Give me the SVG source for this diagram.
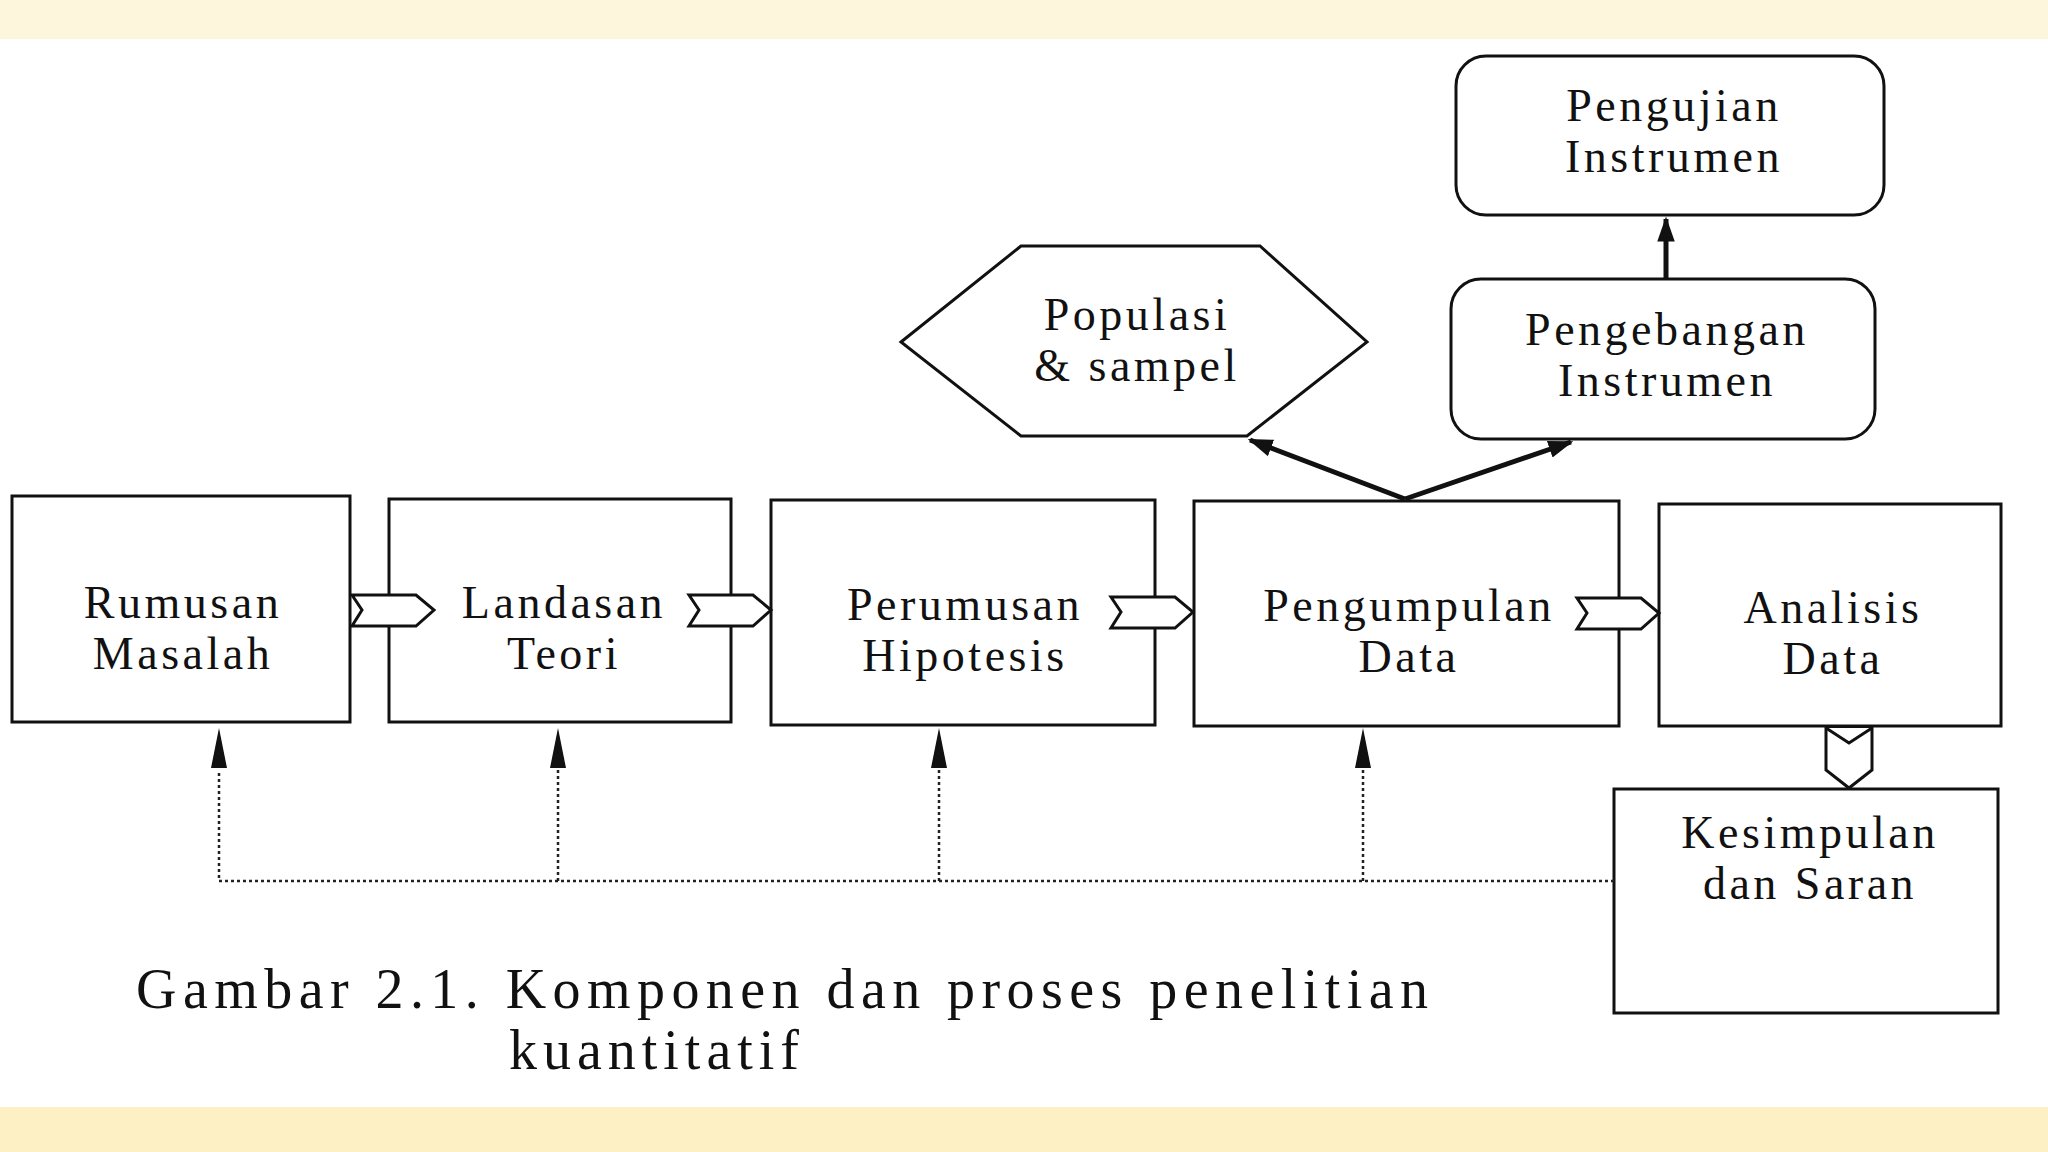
<svg xmlns="http://www.w3.org/2000/svg" width="2048" height="1152" viewBox="0 0 2048 1152">
<defs>
<style>
.b{fill:#fff;stroke:#111;stroke-width:3}
.t{font-family:"Liberation Serif",serif;font-size:46px;fill:#111;text-anchor:middle;letter-spacing:3.5px}
.d{stroke:#222;stroke-width:2.5;stroke-dasharray:3 3;fill:none}
.c{fill:#fff;stroke:#111;stroke-width:3;stroke-linejoin:miter}
</style>
<marker id="ah" viewBox="0 0 10 10" refX="9" refY="5" markerWidth="5" markerHeight="5" orient="auto-start-reverse"><path d="M0,1.5 L10,5 L0,8.5 Z" fill="#111"/></marker>
</defs>
<rect width="2048" height="1152" fill="#fff"/>
<rect width="2048" height="39" fill="#fdf5dc"/>
<rect y="1107" width="2048" height="45" fill="#fdf0c4"/>
<g id="n1"><rect class="b" x="12" y="496" width="338" height="226"/><text class="t" x="183" y="618">Rumusan</text><text class="t" x="183" y="669">Masalah</text></g>
<g id="n2"><rect class="b" x="389" y="499" width="342" height="223"/><text class="t" x="564" y="618">Landasan</text><text class="t" x="564" y="669">Teori</text></g>
<g id="n3"><rect class="b" x="771" y="500" width="384" height="225"/><text class="t" x="965" y="620">Perumusan</text><text class="t" x="965" y="671">Hipotesis</text></g>
<g id="n4"><rect class="b" x="1194" y="501" width="425" height="225"/><text class="t" x="1409" y="621">Pengumpulan</text><text class="t" x="1409" y="672">Data</text></g>
<g id="n5"><rect class="b" x="1659" y="504" width="342" height="222"/><text class="t" x="1833" y="623">Analisis</text><text class="t" x="1833" y="674">Data</text></g>
<g id="n6"><rect class="b" x="1614" y="789" width="384" height="224"/><text class="t" x="1810" y="848">Kesimpulan</text><text class="t" x="1810" y="899">dan  Saran</text></g>
<g id="n7"><polygon class="b" points="901,342 1021,246 1260,246 1367,342 1247,436 1021,436"/><text class="t" x="1137" y="330">Populasi</text><text class="t" x="1137" y="381">&amp; sampel</text></g>
<g id="n8"><rect class="b" x="1451" y="279" width="424" height="160" rx="30"/><text class="t" x="1667" y="345">Pengebangan</text><text class="t" x="1667" y="396">Instrumen</text></g>
<g id="n9"><rect class="b" x="1456" y="56" width="428" height="159" rx="30"/><text class="t" x="1674" y="121">Pengujian</text><text class="t" x="1674" y="172">Instrumen</text></g>
<text x="136" y="1008" font-family="Liberation Serif,serif" font-size="56" fill="#111" textLength="1292" lengthAdjust="spacing">Gambar 2.1. Komponen dan proses penelitian</text>
<text x="509" y="1069" font-family="Liberation Serif,serif" font-size="56" fill="#111" textLength="290" lengthAdjust="spacing">kuantitatif</text>
<g id="connectors">
<polygon class="c" points="352,595 416,595 434,610 416,626 352,626 362,610"/>
<polygon class="c" points="689,595 753,595 771,610 753,626 689,626 699,610"/>
<polygon class="c" points="1111,597 1175,597 1193,612 1175,628 1111,628 1121,612"/>
<polygon class="c" points="1577,598 1641,598 1659,613 1641,629 1577,629 1587,613"/>
<polygon class="c" points="1826,728 1872,728 1872,770 1849,788 1826,770"/>
<polyline class="c" points="1826,728 1849,743 1872,728" fill="none"/>
<path class="d" d="M1614,881 H219 V770 M558,881 V770 M939,881 V770 M1363,881 V770"/>
<g fill="#111"><polygon points="211,768 227,768 219,728"/><polygon points="550,768 566,768 558,728"/><polygon points="931,768 947,768 939,728"/><polygon points="1355,768 1371,768 1363,728"/></g>
<g stroke="#111" stroke-width="5" fill="none" marker-end="url(#ah)">
<line x1="1405" y1="499" x2="1250" y2="440"/>
<line x1="1405" y1="499" x2="1571" y2="442"/>
<line x1="1666" y1="279" x2="1666" y2="219"/>
</g>
</g>
</svg>
